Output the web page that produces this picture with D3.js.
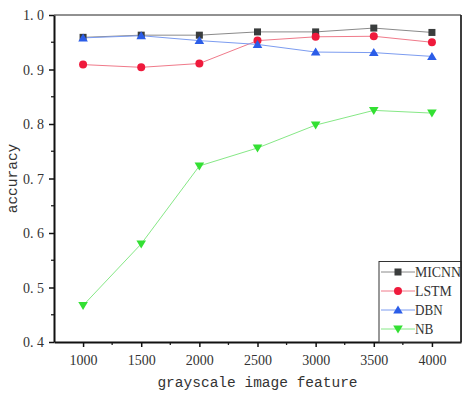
<!DOCTYPE html>
<html>
<head>
<meta charset="utf-8">
<script src="https://cdn.jsdelivr.net/npm/d3@7"></script>
<style>
  body { margin: 0; background: #fff; }
  svg { display: block; }
  text { white-space: pre; }
</style>
</head>
<body>
<div id="hook"></div>
<script>
(function () {
    var w = 474;
    var h = 394;

    // data
    var features = [1000, 1500, 2000, 2500, 3000, 3500, 4000];
    var micnn = [0.959, 0.963, 0.963, 0.969, 0.969, 0.976, 0.968];
    var lstm = [0.909, 0.904, 0.911, 0.953, 0.960, 0.961, 0.950];
    var dbn = [0.958, 0.962, 0.953, 0.946, 0.932, 0.931, 0.924];
    var nb = [0.467, 0.580, 0.723, 0.756, 0.798, 0.825, 0.820];
    var seriesNames = ["MICNN", "LSTM", "DBN", "NB"];
    var yTicks = [0.4, 0.5, 0.6, 0.7, 0.8, 0.9, 1.0];

    var series = [
        { name: seriesNames[0], values: micnn, marker: "square", fill: "#3a3d3d", line: "#8a8a8a" },
        { name: seriesNames[1], values: lstm, marker: "circle", fill: "#ef1a3c", line: "#f07a8a" },
        { name: seriesNames[2], values: dbn, marker: "up", fill: "#2b5de8", line: "#7c9cf0" },
        { name: seriesNames[3], values: nb, marker: "down", fill: "#33e033", line: "#86e886" }
    ];

    var left = 54, right = 461, top = 15, bottom = 342;

    var x = d3.scaleLinear().domain([750, 4250]).range([left, right]);
    var y = d3.scaleLinear().domain([0.4, 1.0]).range([bottom, top]);

    var svg = d3.select("#hook")
        .append("svg")
        .attr("width", w)
        .attr("height", h);

    // frame top and right
    svg.append("line").attr("x1", left).attr("x2", right).attr("y1", top).attr("y2", top)
        .attr("stroke", "#222").attr("stroke-width", 1);
    svg.append("line").attr("x1", right).attr("x2", right).attr("y1", top).attr("y2", bottom)
        .attr("stroke", "#222").attr("stroke-width", 1);

    // minor ticks
    var xMinor = d3.range(1250, 4000, 500);
    svg.selectAll(".xminor").data(xMinor).enter().append("line")
        .attr("x1", function (d) { return x(d); })
        .attr("x2", function (d) { return x(d); })
        .attr("y1", bottom).attr("y2", bottom + 3)
        .attr("stroke", "#222").attr("stroke-width", 1.3);
    var yMinor = d3.range(0.45, 1.0, 0.1);
    svg.selectAll(".yminor").data(yMinor).enter().append("line")
        .attr("x1", left - 3).attr("x2", left)
        .attr("y1", function (d) { return y(d); })
        .attr("y2", function (d) { return y(d); })
        .attr("stroke", "#222").attr("stroke-width", 1.3);

    var xAxis = d3.axisBottom(x).tickValues(features).tickSize(5).tickSizeOuter(0).tickPadding(8)
        .tickFormat(d3.format("d"));
    var yAxis = d3.axisLeft(y).tickValues(yTicks).tickSize(5).tickSizeOuter(0).tickPadding(5)
        .tickFormat(function (d) { return d.toFixed(1).replace(".", ". "); });

    var gx = svg.append("g").attr("transform", "translate(0," + bottom + ")").call(xAxis);
    var gy = svg.append("g").attr("transform", "translate(" + left + ",0)").call(yAxis);

    [gx, gy].forEach(function (g) {
        g.select(".domain").attr("stroke", "#111").attr("stroke-width", 2);
        g.selectAll(".tick line").attr("stroke", "#111").attr("stroke-width", 1.5);
        g.selectAll(".tick text")
            .attr("fill", "#333")
            .style("font-family", "'Liberation Serif', serif")
            .style("font-size", "14px");
    });
    gy.selectAll(".tick text").attr("dy", "0.35em");

    // axis titles
    svg.append("text")
        .text("grayscale image feature")
        .attr("x", (left + right) / 2)
        .attr("y", 387)
        .attr("text-anchor", "middle")
        .attr("fill", "#333")
        .style("font-family", "'Liberation Mono', monospace")
        .style("font-size", "14.5px");
    svg.append("text")
        .text("accuracy")
        .attr("transform", "translate(17," + (top + bottom) / 2 + ") rotate(-90)")
        .attr("text-anchor", "middle")
        .attr("fill", "#333")
        .style("font-family", "'Liberation Mono', monospace")
        .style("font-size", "14.5px");

    function drawMarker(g, type, fill) {
        if (type === "square") {
            g.append("rect").attr("x", -3.5).attr("y", -3.5).attr("width", 7).attr("height", 7).attr("fill", fill);
        } else if (type === "circle") {
            g.append("circle").attr("r", 4).attr("fill", fill);
        } else if (type === "up") {
            g.append("path").attr("d", "M0,-4.5L4.8,3.5L-4.8,3.5Z").attr("fill", fill);
        } else {
            g.append("path").attr("d", "M0,4.5L4.8,-3.5L-4.8,-3.5Z").attr("fill", fill);
        }
    }

    var line = d3.line()
        .x(function (d, i) { return x(features[i]); })
        .y(function (d) { return y(d); });

    series.forEach(function (s) {
        svg.append("path")
            .attr("d", line(s.values))
            .attr("fill", "none")
            .attr("stroke", s.line)
            .attr("stroke-width", 1);
    });
    series.forEach(function (s) {
        s.values.forEach(function (v, i) {
            var g = svg.append("g").attr("transform", "translate(" + x(features[i]) + "," + y(v) + ")");
            drawMarker(g, s.marker, s.fill);
        });
    });

    // legend
    var lg = svg.append("g");
    lg.append("rect")
        .attr("x", 379).attr("y", 261.5)
        .attr("width", right - 379).attr("height", bottom - 261.5)
        .attr("fill", "#fff").attr("stroke", "#333").attr("stroke-width", 1);
    series.forEach(function (s, i) {
        var ly = 272 + i * 19;
        lg.append("line").attr("x1", 381).attr("x2", 415).attr("y1", ly).attr("y2", ly)
            .attr("stroke", s.line).attr("stroke-width", 1);
        var mg = lg.append("g").attr("transform", "translate(398," + ly + ")");
        drawMarker(mg, s.marker, s.fill);
        lg.append("text")
            .text(s.name)
            .attr("x", 415)
            .attr("y", ly)
            .attr("dy", "0.35em")
            .attr("fill", "#333")
            .attr("textLength", s.name.length * 9.2)
            .attr("lengthAdjust", "spacingAndGlyphs")
            .style("font-family", "'Liberation Serif', serif")
            .style("font-size", "15px");
    });
    // redraw right edge over legend
    svg.append("line").attr("x1", right).attr("x2", right).attr("y1", top).attr("y2", bottom)
        .attr("stroke", "#222").attr("stroke-width", 1.5);
})();
</script>
</body>
</html>
